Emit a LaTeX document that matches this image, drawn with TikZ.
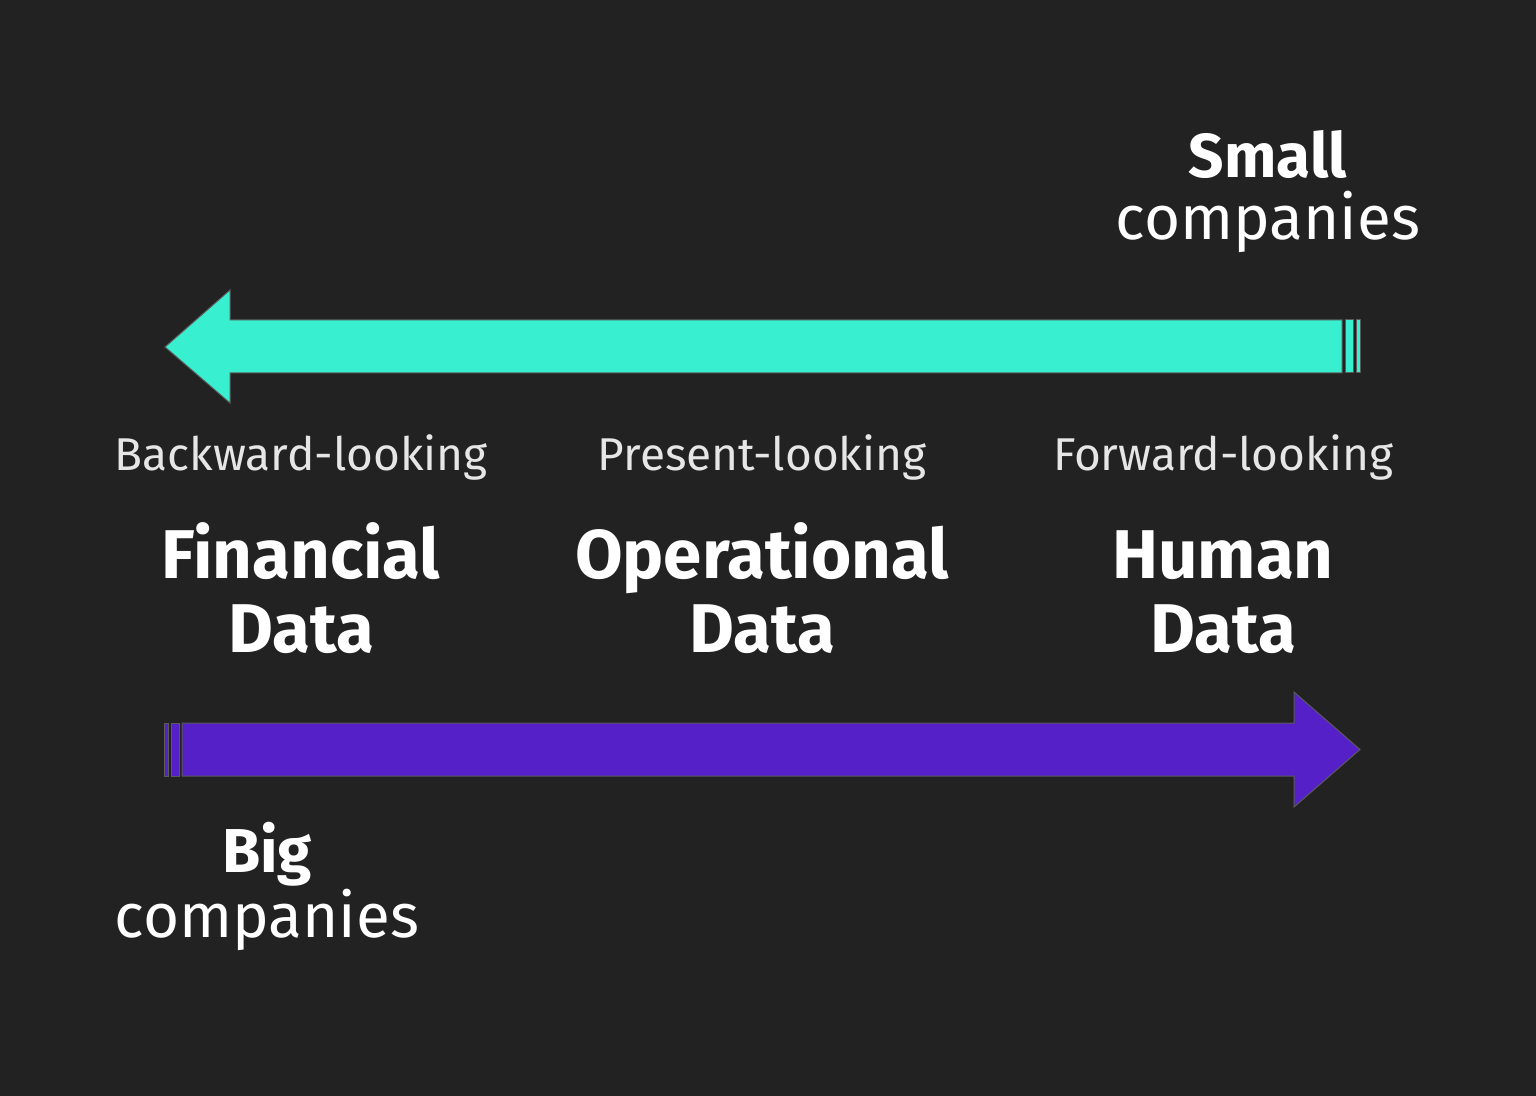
\documentclass[tikz,border=0pt]{standalone}
\usepackage{fontspec}
\setmainfont{Fira Sans}
\usepackage{xcolor}
\usepackage{tikz}
\definecolor{bgdark}{HTML}{222222}
\definecolor{smallteal}{HTML}{38EFCF}
\definecolor{bigpurple}{HTML}{5620C9}
\definecolor{edgegray}{HTML}{5A5A5A}
\definecolor{softwhite}{HTML}{E6E6E6}

\begin{document}
\begin{tikzpicture}[
  x=0.5pt, y=-0.5pt,
  heading/.style={text=white, font=\bfseries\fontsize{34.5}{37}\selectfont, align=center, anchor=base, inner sep=0pt},
  outlook/.style={text=softwhite, font=\fontsize{23}{26}\selectfont, anchor=base, inner sep=0pt},
  company/.style={text=white, font=\fontsize{31}{31}\selectfont, align=center, anchor=base, inner sep=0pt},
  band/.style={draw=edgegray, line width=0.5pt}
]
\fill[bgdark] (0,0) rectangle (1536,1096);
\useasboundingbox (0,0) rectangle (1536,1096);
\node[company] (small) at (1268,240) {{\bfseries Small}\\companies};
\draw[band, fill=smallteal] (165,347) -- (230,290) -- (230,320) -- (1342,320) -- (1342,373) -- (230,373) -- (230,403) -- cycle;
\draw[band, fill=smallteal] (1345,320) rectangle (1353,373);
\draw[band, fill=smallteal] (1356,320) rectangle (1360,373);
\node[outlook] (back) at (301,470) {Backward-looking};
\node[outlook] (present) at (762,470) {Present-looking};
\node[outlook] (forward) at (1223,470) {Forward-looking};
\node[heading] (financial) at (301,652) {Financial\\Data};
\node[heading] (operational) at (762,652) {Operational\\Data};
\node[heading] (human) at (1223,652) {Human\\Data};
\draw[band, fill=bigpurple] (182,723) -- (1294,723) -- (1294,692) -- (1360,749.5) -- (1294,807) -- (1294,776) -- (182,776) -- cycle;
\draw[band, fill=bigpurple] (171,723) rectangle (179,776);
\draw[band, fill=bigpurple] (164,723) rectangle (168,776);
\node[company] (big) at (267,937) {{\bfseries Big}\\companies};
\end{tikzpicture}
\end{document}
